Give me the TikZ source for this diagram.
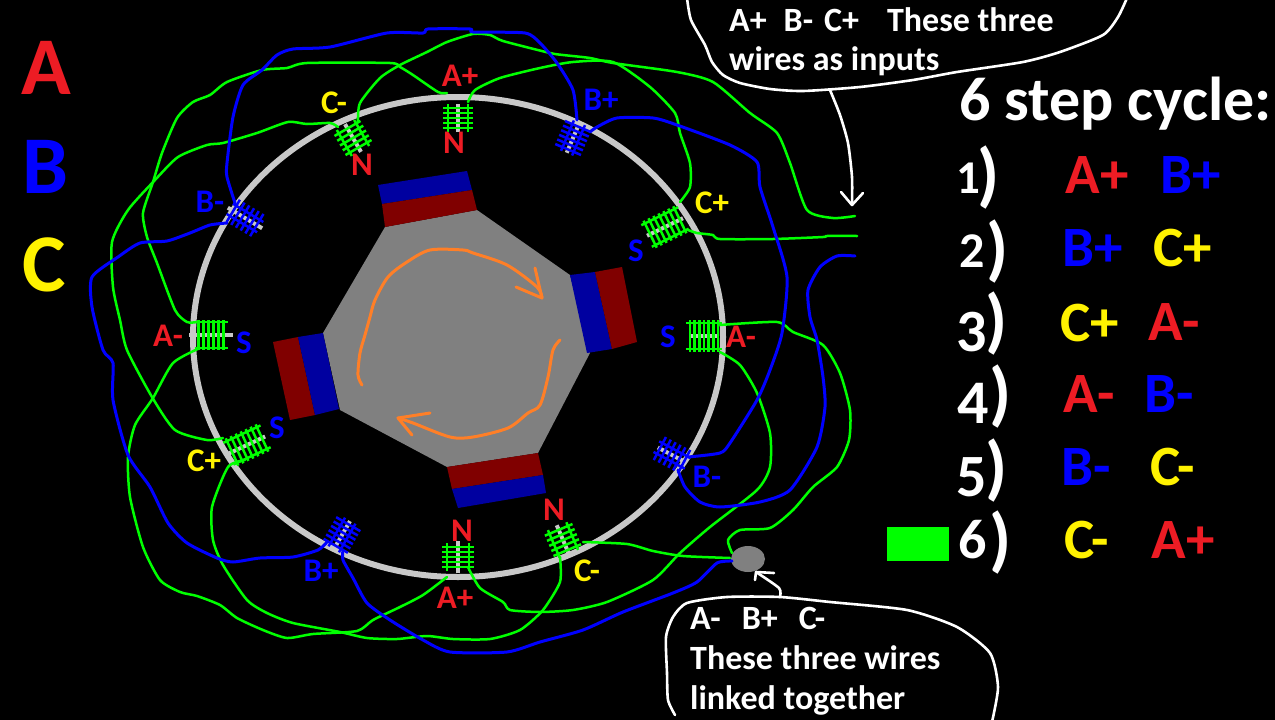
\documentclass[tikz,border=0pt]{standalone}
\usepackage{fontspec}
\usetikzlibrary{shapes.geometric}
\setmainfont{Carlito}
\definecolor{pred}{HTML}{ED1C24}
\definecolor{pblue}{HTML}{0000FF}
\definecolor{pyel}{HTML}{FFF200}
\definecolor{pgreen}{HTML}{00FF00}
\definecolor{pring}{HTML}{C8C8C8}
\definecolor{pgray}{HTML}{808080}
\definecolor{pdblue}{HTML}{0000A0}
\definecolor{pdred}{HTML}{800000}
\definecolor{porange}{HTML}{FF7F27}
\newcommand{\fsz}[1]{\fontsize{#1}{#1}\selectfont}
% x y rot colour n spacing halfrung railoffset stemhalf
\newcommand{\coilat}[9]{%
\begin{scope}[shift={(#1,#2)},rotate=#3]
\draw[line width=4pt,pring] (-#9,0) -- (#9,0);
\foreach \i in {1,...,#5} {
  \pgfmathsetmacro{\xx}{(\i-(#5+1)/2)*#6}
  \draw[#4,line width=2.5pt] (\xx,-#7) -- (\xx,#7);
}
\pgfmathsetmacro{\ee}{(#5-1)/2*#6+4}
\draw[#4,line width=2.5pt] (-\ee,-#8) -- (\ee,-#8);
\draw[#4,line width=2.5pt] (-\ee,#8) -- (\ee,#8);
\end{scope}}
\tikzset{
  wireg/.style={pgreen,line width=2.5pt,line join=round,line cap=round},
  wireb/.style={pblue,line width=3pt,line join=round,line cap=round},
  whitel/.style={white,line width=2.6pt,line join=round,line cap=round},
  orangel/.style={porange,line width=3pt,line join=round,line cap=round},
  lab/.style={inner sep=0pt,font=\bfseries\fsz{33}},
  rl/.style={lab,text=pred},
  bl/.style={lab,text=pblue},
  yl/.style={lab,text=pyel},
  big/.style={inner sep=0pt,font=\bfseries\fsz{82}},
  step col/.style={inner sep=0pt,font=\bfseries\fsz{57}},
  wt/.style={inner sep=0pt,anchor=base west,text=white,font=\bfseries\fsz{34}},
  num/.style={inner sep=0pt,text=white,font=\bfseries},
  par/.style={inner sep=0pt,text=white,font=\bfseries\fsz{71}},
}
\begin{document}
\begin{tikzpicture}[x=1pt,y=-1pt]
\useasboundingbox (0,0) rectangle (1275,720);
\fill[black] (0,0) rectangle (1275,720);

% stator ring
\draw[pring,line width=6pt] (458,337) ellipse [x radius=265,y radius=240];

% rotor
\fill[pgray] (385,227) -- (477,210) -- (570,275) -- (590,353) -- (538,453) -- (447,467) -- (340,410) -- (323,333) -- cycle;
\fill[pdblue] (378,185) -- (467,171) -- (472,190) -- (382,204) -- cycle;
\fill[pdred] (382,204) -- (472,190) -- (477,210) -- (385,227) -- cycle;
\fill[pdblue] (570,275) -- (595,272) -- (612,349) -- (587,353) -- cycle;
\fill[pdred] (595,272) -- (622,267) -- (637,342) -- (612,349) -- cycle;
\fill[pdred] (447,467) -- (538,453) -- (543,475) -- (452,489) -- cycle;
\fill[pdblue] (452,489) -- (543,475) -- (546,493) -- (458,508) -- cycle;
\fill[pdred] (273,342) -- (298,337) -- (315,415) -- (290,420) -- cycle;
\fill[pdblue] (298,337) -- (323,333) -- (339,409) -- (315,415) -- cycle;

% rotation arrows
\draw[orangel] plot[smooth,tension=.5] coordinates {(362,385) (358,375) (360,353) (365,335) (370,317) (375,300) (388,277) (407,262) (430,250) (463,250) (473,253) (507,265) (537,287) (542,298)};
\draw[orangel] (535,268) -- (542,298) -- (516,287);
\draw[orangel] plot[smooth,tension=.5] coordinates {(560,340) (553,350) (548,377) (540,405) (528,413) (508,428) (473,437) (450,437) (413,423) (398,418)};
\draw[orangel] (430,413) -- (398,418) -- (412,435);

% coils
\coilat{458}{118}{90}{pgreen}{5}{5}{15}{10}{14}
\coilat{458}{557}{90}{pgreen}{5}{5}{16}{11}{16}
\coilat{211}{335}{0}{pgreen}{6}{5}{15}{13}{22}
\coilat{704}{336}{0}{pgreen}{7}{4.7}{16}{13}{14}
\coilat{353}{138}{-60}{pgreen}{5}{5.5}{15}{10}{16}
\coilat{665}{227}{26}{pgreen}{7}{5.5}{15}{12}{20}
\coilat{563}{540}{-67}{pgreen}{5}{5.5}{15}{10}{16}
\coilat{247}{445}{25}{pgreen}{7}{5.5}{15}{12}{20}
\coilat{245}{218}{-31}{pblue}{6}{5.5}{13}{6}{20}
\coilat{573}{138}{67}{pblue}{6}{5}{14}{6}{16}
\coilat{672}{455}{-28}{pblue}{6}{5.5}{13}{6}{16}
\coilat{342}{535}{60}{pblue}{6}{5}{14}{6}{16}

% junction blob
\node[fill=pgray,ellipse,minimum width=34pt,minimum height=26pt,inner sep=0pt] (blob) at (748,559) {};

% green wires
\draw[wireg] plot[smooth,tension=.4] coordinates {(447,93) (438,92) (413,75) (400,67) (390,63) (307,63) (287,68) (262,70) (227,82) (210,95) (193,102) (177,118) (162,153) (153,182) (143,213) (147,237) (157,263) (175,310) (187,322) (197,322)};
\draw[wireg] plot[smooth,tension=.4] coordinates {(338,127) (330,123) (307,124) (288,122) (257,133) (223,143) (207,145) (178,157) (155,180) (128,210) (112,242) (113,287) (120,320) (127,350) (152,397) (175,430) (207,440) (223,438)};
\draw[wireg] plot[smooth,tension=.4] coordinates {(855,216) (833,218) (807,210) (790,163) (777,133) (750,113) (713,82) (677,72) (613,63) (590,58) (563,55) (550,53) (503,41) (490,35) (473,34) (447,42) (427,52) (400,65) (380,78) (360,103) (358,122)};
\draw[wireg] plot[smooth,tension=.4] coordinates {(468,102) (475,90) (500,78) (540,68) (573,62) (613,62) (650,87) (675,113) (680,133) (690,163) (690,187) (680,202)};
\draw[wireg] plot[smooth,tension=.4] coordinates {(688,230) (697,233) (713,235) (720,239) (773,239) (823,237) (827,236) (857,236)};
\draw[wireg] plot[smooth,tension=.4] coordinates {(720,325) (777,322) (793,332) (823,345) (840,373) (850,410) (849,440) (837,467) (813,487) (793,510) (770,528) (740,530) (728,540) (732,553)};
\draw[wireg] plot[smooth,tension=.4] coordinates {(720,352) (740,365) (757,393) (770,433) (770,467) (757,490) (710,527) (680,553) (653,580) (607,602) (573,610) (540,612) (510,610) (503,602) (480,588) (468,567)};
\draw[wireg] plot[smooth,tension=.4] coordinates {(583,542) (627,544) (653,551) (683,556) (730,558)};
\draw[wireg] plot[smooth,tension=.4] coordinates {(560,557) (560,582) (543,610) (520,630) (490,639) (453,639) (427,636) (397,639) (367,638) (340,632) (293,623) (267,613) (247,600) (223,565) (213,540) (212,507) (228,467) (245,460)};
\draw[wireg] plot[smooth,tension=.4] coordinates {(447,577) (423,595) (400,607) (373,620) (357,631) (313,634) (287,638) (263,630) (237,618) (220,605) (197,596) (180,592) (160,580) (143,547) (130,497) (128,457) (135,425) (153,398) (173,363) (200,348)};

% blue wires
\draw[wireb] plot[smooth,tension=.4] coordinates {(227,223) (210,225) (190,233) (167,241) (140,243) (118,257) (92,277) (92,307) (103,350) (113,363) (113,400) (128,455) (150,487) (168,523) (187,543) (217,558) (233,562) (260,558) (293,557) (318,550) (327,542)};
\draw[wireb] plot[smooth,tension=.4] coordinates {(235,203) (227,177) (227,163) (233,117) (243,85) (262,70) (277,55) (293,49) (330,47) (387,33) (423,33) (428,29) (470,29) (473,32) (525,33) (540,43) (557,63) (573,90) (577,120)};
\draw[wireb] plot[smooth,tension=.4] coordinates {(590,132) (597,127) (617,118) (653,118) (677,125) (730,145) (757,162) (760,187) (773,227) (787,277) (782,333) (770,370) (757,400) (730,443) (720,453) (688,457)};
\draw[wireb] plot[smooth,tension=.4] coordinates {(855,256) (837,256) (820,267) (808,290) (810,317) (817,340) (823,377) (825,407) (817,447) (790,490) (760,502) (720,507) (700,502) (685,487) (678,470)};
\draw[wireb] plot[smooth,tension=.4] coordinates {(343,550) (343,560) (353,578) (367,603) (390,620) (423,640) (450,652) (507,652) (540,642) (583,630) (623,612) (673,593) (697,582) (717,563) (732,561)};

% callouts
\draw[whitel] plot[smooth,tension=.4] coordinates {(687,-2) (691,20) (705,45) (712,62) (723,75) (740,83) (770,89) (803,91) (860,87) (913,80) (957,72) (1023,62) (1060,52) (1103,35) (1118,17) (1127,-2)};
\draw[whitel] plot[smooth,tension=.4] coordinates {(830,90) (840,115) (848,143) (852,177) (852,204)};
\draw[whitel] (841,192) -- (852,205) -- (863,193);
\draw[whitel] plot[smooth,tension=.4] coordinates {(675,715) (668,700) (667,673) (666,637) (673,617) (687,603) (727,597) (780,597) (830,602) (907,610) (957,627) (990,653) (998,687) (992,722)};
\draw[whitel] plot[smooth,tension=.4] coordinates {(780,597) (779,588) (756,572)};
\draw[whitel] (755,580) -- (756,572) -- (774,573);

% coil labels
\node[rl] (l1) at (460,76) {A+};
\node[rl] (l2) at (454,143) {N};
\node[yl] (l3) at (334,103) {C-};
\node[rl] (l4) at (362,165) {N};
\node[bl] (l5) at (601,100) {B+};
\node[yl] (l6) at (712,203) {C+};
\node[bl] (l7) at (636,251) {S};
\node[rl] (l8) at (741,337) {A-};
\node[bl] (l9) at (668,337) {S};
\node[bl] (l10) at (707,477) {B-};
\node[rl] (l11) at (554,510) {N};
\node[yl] (l12) at (587,571) {C-};
\node[rl] (l13) at (462,531) {N};
\node[rl] (l14) at (455,598) {A+};
\node[bl] (l15) at (321,571) {B+};
\node[yl] (l16) at (204,461) {C+};
\node[bl] (l17) at (277,428) {S};
\node[rl] (l18) at (168,336) {A-};
\node[bl] (l19) at (244,343) {S};
\node[bl] (l20) at (210,202) {B-};

% phase letters
\node[big,text=pred] (bigA) at (46,68) {A};
\node[big,text=pblue] (bigB) at (45,167) {B};
\node[big,text=pyel] (bigC) at (44,265) {C};

% callout text
\node[wt] (t1) at (729,31) {A+\hspace{17pt}B-\hspace{11pt}C+\hspace{28pt}These three};
\node[wt] (t2) at (729,70) {wires as inputs};
\node[wt] (t3) at (690,629) {A-\hspace{21pt}B+\hspace{21pt}C-};
\node[wt] (t4) at (690,669) {These three wires};
\node[wt] (t5) at (690,709) {linked together};

% step list
\node[inner sep=0pt,anchor=base west,text=white,font=\bfseries\fsz{62}] (title) at (959,120) {6 step cycle:};
\node[num,font=\bfseries\fsz{47}] (n1) at (968,178) {1};
\node[par] (p1) at (989,178) {)};
\node[num,font=\bfseries\fsz{50}] (n2) at (972,251) {2};
\node[par] (p2) at (998,252) {)};
\node[num,font=\bfseries\fsz{60}] (n3) at (972,332) {3};
\node[par] (p3) at (997,324) {)};
\node[num,font=\bfseries\fsz{62}] (n4) at (973,403) {4};
\node[par] (p4) at (1001,397) {)};
\node[num,font=\bfseries\fsz{60}] (n5) at (972,477) {5};
\node[par] (p5) at (997,471) {)};
\node[num,font=\bfseries\fsz{56}] (n6) at (973,540) {6};
\node[par] (p6) at (1001,543) {)};
\node[step col,text=pred] (s1a) at (1097,175) {A+};
\node[step col,text=pblue] (s1b) at (1191,175) {B+};
\node[step col,text=pblue] (s2a) at (1093,248) {B+};
\node[step col,text=pyel] (s2b) at (1183,248) {C+};
\node[step col,text=pyel] (s3a) at (1090,323) {C+};
\node[step col,text=pred] (s3b) at (1174,322) {A-};
\node[step col,text=pred] (s4a) at (1089,394) {A-};
\node[step col,text=pblue] (s4b) at (1169,394) {B-};
\node[step col,text=pblue] (s5a) at (1086,467) {B-};
\node[step col,text=pyel] (s5b) at (1173,467) {C-};
\node[step col,text=pyel] (s6a) at (1087,540) {C-};
\node[step col,text=pred] (s6b) at (1183,540) {A+};
\node[fill=pgreen,inner sep=0pt,minimum width=62pt,minimum height=34pt] (swatch) at (918,544) {};
\end{tikzpicture}
\end{document}
